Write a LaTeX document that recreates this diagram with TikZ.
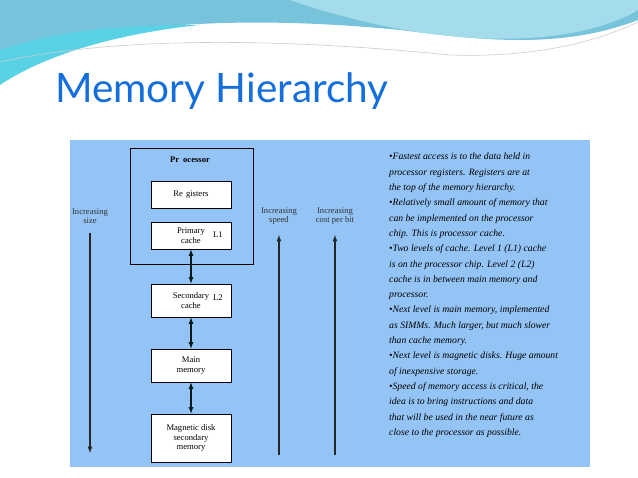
\documentclass[tikz,border=0pt]{standalone}
\usepackage{fontspec}
\setmainfont{Liberation Serif}
\newfontfamily\titlefont{Lato}
\definecolor{panel}{RGB}{148,196,245}
\definecolor{titleblue}{RGB}{20,110,220}
\definecolor{waveA}{RGB}{120,195,220}
\definecolor{waveB}{RGB}{90,210,230}
\definecolor{waveC}{RGB}{165,220,235}
\begin{document}
\begin{tikzpicture}[x=1pt,y=-1pt,
  box/.style={draw=black,fill=white,line width=0.8pt,minimum width=80pt,align=center,font=\fontsize{8.6}{9.5}\selectfont},
  lab/.style={align=center,font=\fontsize{8.6}{9.5}\selectfont,text=black!80},
  dbl/.style={<->,>=latex,line width=1.2pt,draw=black!80!teal},
  arr/.style={->,>=latex,line width=1.2pt,draw=black!85}]
\useasboundingbox (0,0) rectangle (638,478);
\fill[white] (0,0) rectangle (638,478);
% header waves
\fill[waveA] (0,0) -- (638,0) -- (638,20) .. controls (560,50) and (480,40) .. (400,30) .. controls (250,15) and (80,20) .. (0,70) -- cycle;
\fill[waveB] (0,50) .. controls (60,30) and (120,25) .. (200,25) .. controls (150,30) and (60,45) .. (0,85) -- cycle;
\fill[waveC] (290,0) -- (638,0) -- (638,10) .. controls (580,45) and (450,55) .. (290,0) -- cycle;
\draw[gray!40,line width=0.6pt] (0,62) .. controls (100,40) and (250,35) .. (450,55) .. controls (540,58) and (600,40) .. (638,22);
\node[anchor=base west,inner sep=0,font=\titlefont\fontsize{40.5}{42}\selectfont,text=titleblue] (title) at (55,103) {Memory Hierarchy};
% panel
\fill[panel] (70,140) rectangle (590,467);
\draw[line width=0.9pt] (130,148) rectangle (253,264);
\node[font=\bfseries\fontsize{8.6}{9.5}\selectfont] (proc) at (190,160) {Pr\hspace{4pt}ocessor};
\node[box,minimum height=27pt] (reg) at (191,194.5) {Re\hspace{3pt}gisters};
\node[box,minimum height=27pt] (l1) at (191,235.5) {Primary\\cache};
\node[lab,text=black] (l1t) at (218,235) {L1};
\node[box,minimum height=33pt] (l2) at (191,300.5) {Secondary\\cache};
\node[lab,text=black] (l2t) at (218,298) {L2};
\node[box,minimum height=33pt] (mm) at (191,365.5) {Main\\memory};
\node[box,minimum height=48pt] (md) at (191,438) {Magnetic disk\\secondary\\memory};
\draw[dbl] (l1) -- (l2);
\draw[dbl] (l2) -- (mm);
\draw[dbl] (mm) -- (md);
\node[lab] (size) at (90,216) {Increasing\\size};
\node[lab] (speed) at (279,216) {Increasing\\speed};
\node[lab] (cost) at (335,216) {Increasing\\cost per bit};
\coordinate (s1) at (90,233); \coordinate (s2) at (90,453);
\coordinate (p1) at (279,455); \coordinate (p2) at (279,235);
\coordinate (c1) at (335,455); \coordinate (c2) at (335,235);
\draw[arr] (s1) -- (s2);
\draw[arr] (p1) -- (p2);
\draw[arr] (c1) -- (c2);
\node[anchor=north west,align=left,inner sep=0,font=\itshape\fontsize{9.7}{15.3}\selectfont] (txt) at (389,153) {%
\textbullet Fastest access is to the data held in\\
processor registers. Registers are at\\
the top of the memory hierarchy.\\
\textbullet Relatively small amount of memory that\\
can be implemented on the processor\\
chip. This is processor cache.\\
\textbullet Two levels of cache. Level 1 (L1) cache\\
is on the processor chip. Level 2 (L2)\\
cache is in between main memory and\\
processor.\\
\textbullet Next level is main memory, implemented\\
as SIMMs. Much larger, but much slower\\
than cache memory.\\
\textbullet Next level is magnetic disks. Huge amount\\
of inexpensive storage.\\
\textbullet Speed of memory access is critical, the\\
idea is to bring instructions and data\\
that will be used in the near future as\\
close to the processor as possible.};
\end{tikzpicture}
\end{document}
